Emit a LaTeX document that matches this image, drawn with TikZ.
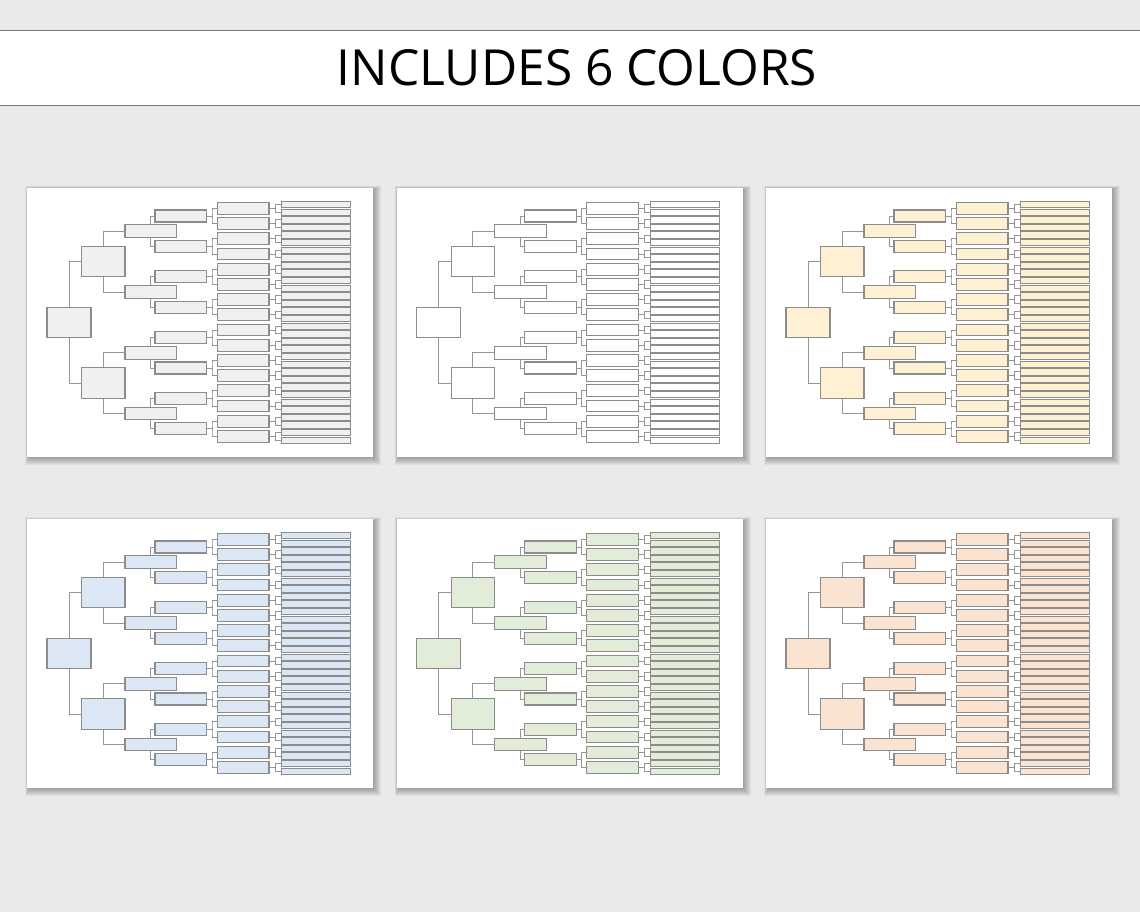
\documentclass[tikz,border=0pt]{standalone}
\usepackage{fontspec}
\setmainfont{Open Sans}
\usetikzlibrary{calc}
\definecolor{backdrop}{RGB}{234,234,234}
\definecolor{rule}{RGB}{120,120,120}
\definecolor{boxline}{RGB}{140,140,140}
\definecolor{wire}{RGB}{150,150,150}
\definecolor{fillgray}{RGB}{240,240,240}
\definecolor{fillwhite}{RGB}{255,255,255}
\definecolor{fillcream}{RGB}{254,241,211}
\definecolor{fillblue}{RGB}{220,231,245}
\definecolor{fillgreen}{RGB}{225,237,216}
\definecolor{fillpeach}{RGB}{251,227,210}
\newcommand{\pxl}{0.02cm}
\pgfdeclarelayer{back}
\pgfdeclarelayer{wires}
\pgfsetlayers{back,wires,main}
\tikzset{
  person/.style 2 args={draw=boxline, line width=0.6pt, fill=\boxfill, inner sep=0pt,
    minimum width=#1*\pxl, minimum height=#2*\pxl},
  elbow/.style={draw=wire, line width=0.55pt},
}

\begin{document}
\begin{tikzpicture}[x=0.02cm,y=-0.02cm]
\useasboundingbox (0,0) rectangle (1140,912);
\begin{pgfonlayer}{back}
  \fill[backdrop] (0,0) rectangle (1140,912);
  % title band
  \fill[white] (0,30.5) rectangle (1140,105.5);
  \draw[rule,line width=1pt] (0,30.5) -- (1140,30.5);
  \draw[rule,line width=1pt] (0,105.5) -- (1140,105.5);
\end{pgfonlayer}
\node[font=\fontsize{28.3}{28.3}\selectfont] (title) at (577,68) {INCLUDES 6 COLORS};

\foreach \col/\row/\boxfill [count=\pn] in {0/0/fillgray,1/0/fillwhite,2/0/fillcream,0/1/fillblue,1/1/fillgreen,2/1/fillpeach}{
\begin{scope}[shift={({27+369.5*\col},{188+331*\row})}]
  % sheet with soft shadow
  \begin{pgfonlayer}{back}
    \foreach \s in {1,...,8}
      \fill[black,opacity=0.045] ({2-\s*0.5},{2-\s*0.5}) rectangle ({346+\s},{269+\s});
    \fill[white] (0,0) rectangle (346,269);
  \end{pgfonlayer}
  % boxes, generation by generation
  \node[person={44}{30}] (p\pn-g1-0) at (42,134.4) {};
  \foreach \n in {0,1}
    \node[person={43.3}{30.6}] (p\pn-g2-\n) at (76.35,{16.6+(16*\n+7.5)*7.6}) {};
  \foreach \m in {0,...,3}
    \node[person={51.7}{12.7}] (p\pn-g3-\m) at (123.85,{16.6+(8*\m+3.5)*7.6}) {};
  \foreach \k in {0,...,7}
    \node[person={51.7}{12}] (p\pn-g4-\k) at (153.85,{16.6+(4*\k+1.5)*7.6}) {};
  \foreach \j in {0,...,15}
    \node[person={51.7}{11.7}] (p\pn-g5-\j) at (216.15,{16.6+(2*\j+0.5)*7.6}) {};
  \foreach \i in {0,...,31}
    \node[person={69}{6.4},line width=0.45pt] (p\pn-g6-\i) at (288.5,{16.6+\i*7.6}) {};
  % connectors
  \begin{pgfonlayer}{wires}
    \foreach \n in {0,1}
      \draw[elbow] (p\pn-g2-\n.west) -| (p\pn-g1-0.center);
    \foreach \m in {0,...,3}{
      \pgfmathtruncatemacro\up{\m/2}
      \draw[elbow] (p\pn-g3-\m.west) -| (p\pn-g2-\up.center);
    }
    \foreach \k in {0,...,7}{
      \pgfmathtruncatemacro\up{\k/2}
      \draw[elbow] (p\pn-g4-\k.west) -| (p\pn-g3-\up.center);
    }
    \foreach \j in {0,...,15}{
      \pgfmathtruncatemacro\up{\j/2}
      \draw[elbow] (p\pn-g4-\up.east) -| ($(p\pn-g4-\up.east)!.5!(p\pn-g5-\j.west)$) |- (p\pn-g5-\j.west);
    }
    \foreach \i in {0,...,31}{
      \pgfmathtruncatemacro\up{\i/2}
      \draw[elbow] (p\pn-g5-\up.east) -| ($(p\pn-g5-\up.east)!.5!(p\pn-g6-\i.west)$) |- (p\pn-g6-\i.west);
    }
  \end{pgfonlayer}
\end{scope}
}
\end{tikzpicture}
\end{document}
